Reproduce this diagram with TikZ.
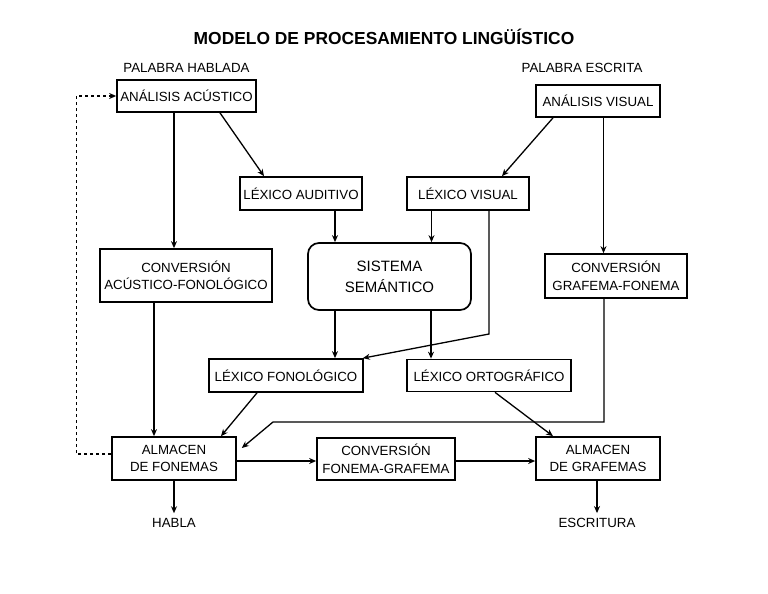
\documentclass[tikz,border=0pt]{standalone}
\usepackage{fontspec}
\setmainfont{Liberation Sans}
\usetikzlibrary{arrows.meta}
\begin{document}
\begin{tikzpicture}[x=1pt,y=-1pt,
  box/.style={draw, line width=1.7pt, inner sep=0pt, align=center,
    font=\fontsize{13.3}{17.5}\selectfont},
  lbl/.style={inner sep=0pt, font=\fontsize{13.3}{16}\selectfont},
  arr/.style={line width=1.3pt, -{Stealth[length=7pt,width=6pt]}},
  ln/.style={line width=1.3pt}]
\path[use as bounding box] (0,0) rectangle (768,594);
\node[inner sep=0pt, font=\bfseries\fontsize{17.4}{20}\selectfont] (title) at (384,37) {MODELO DE PROCESAMIENTO LINGÜÍSTICO};
\node[lbl] (ph) at (186.5,68) {PALABRA HABLADA};
\node[lbl] (pe) at (582,68) {PALABRA ESCRITA};
\node[box, minimum width=139pt, minimum height=32pt] (aa) at (186.5,96) {ANÁLISIS ACÚSTICO};
\node[box, minimum width=124pt, minimum height=32pt] (av) at (598,101) {ANÁLISIS VISUAL};
\node[box, minimum width=122pt, minimum height=33pt] (la) at (301,193.5) {LÉXICO AUDITIVO};
\node[box, minimum width=122pt, minimum height=33pt] (lv) at (468,193.5) {LÉXICO VISUAL};
\node[box, minimum width=172pt, minimum height=53pt] (caf) at (186,275.5) {CONVERSIÓN\\ACÚSTICO-FONOLÓGICO};
\node[box, rounded corners=11pt, minimum width=163pt, minimum height=67pt,
  font=\fontsize{15}{21}\selectfont] (ss) at (389.5,276.5) {SISTEMA\\SEMÁNTICO};
\node[box, minimum width=142pt, minimum height=44pt] (cgf) at (616,276) {CONVERSIÓN\\GRAFEMA-FONEMA};
\node[box, minimum width=154pt, minimum height=33pt] (lf) at (286,375.5) {LÉXICO FONOLÓGICO};
\node[box, minimum width=164pt, minimum height=32pt] (lo) at (489,375.5) {LÉXICO ORTOGRÁFICO};
\node[box, minimum width=124pt, minimum height=43pt] (af) at (174,458.5) {ALMACEN\\DE FONEMAS};
\node[box, minimum width=138pt, minimum height=42pt] (cfg) at (386,459) {CONVERSIÓN\\FONEMA-GRAFEMA};
\node[box, minimum width=124pt, minimum height=43pt] (ag) at (598,458.5) {ALMACEN\\DE GRAFEMAS};
\node[lbl] (habla) at (174,523) {HABLA};
\node[lbl] (escr) at (597,523) {ESCRITURA};
% connectors
\draw[arr, dashed] ([yshift=4.5pt]af.west) -- ++(-35,0) |- (aa.west);
\draw[arr] ([xshift=33.5pt]aa.south) -- ([xshift=-37pt]la.north);
\draw[arr] ([xshift=-12.5pt]aa.south) -- ([xshift=-12.5pt]aa.south |- caf.north);
\draw[arr] ([xshift=-45pt]av.south) -- ([xshift=34pt]lv.north);
\draw[arr] ([xshift=5.5pt]av.south) -- ([xshift=5.5pt]av.south |- cgf.north);
\draw[arr] ([xshift=34pt]la.south) -- ([xshift=34pt]la.south |- ss.north);
\draw[arr] ([xshift=-36.5pt]lv.south) -- ([xshift=-36.5pt]lv.south |- ss.north);
\coordinate (bend1) at (489,334);
\draw[arr] ([xshift=21pt]lv.south) -- (bend1) -- ([xshift=-1pt]lf.north east);
\draw[arr] ([xshift=-54.5pt]ss.south) -- ([xshift=-54.5pt]ss.south |- lf.north);
\draw[arr] ([xshift=41.5pt]ss.south) -- ([xshift=41.5pt]ss.south |- lo.north);
\draw[arr] ([xshift=-32pt]caf.south) -- ([xshift=-32pt]caf.south |- af.north);
\draw[arr] ([xshift=-29pt]lf.south) -- ([xshift=47pt]af.north);
\coordinate (g1) at (604,422);
\coordinate (g2) at (273,422);
\draw[arr] ([xshift=-12pt]cgf.south) -- (g1) -- (g2) -- ([xshift=5pt,yshift=10.5pt]af.east);
\draw[arr] ([yshift=-2.5pt]af.east) -- ([yshift=-2.5pt]af.east -| cfg.west);
\draw[arr] ([yshift=-2pt]cfg.east) -- ([yshift=-2pt]cfg.east -| ag.west);
\draw[arr] ([xshift=6pt]lo.south) -- ([xshift=-45pt]ag.north);
\draw[arr] (af.south) -- ([yshift=5pt]habla.north);
\draw[arr] ([xshift=-1pt]ag.south) -- ([yshift=5pt]escr.north);
\end{tikzpicture}
\end{document}
